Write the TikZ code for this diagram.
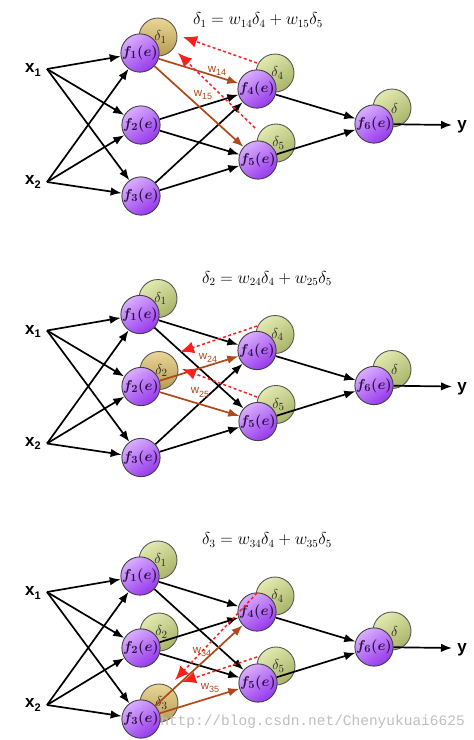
\documentclass[tikz,border=0pt]{standalone}
\usepackage{fontspec}
\newfontfamily\arial{Liberation Sans}
\newfontfamily\cour{Liberation Mono}
\usetikzlibrary{arrows.meta}
\definecolor{fcolA}{HTML}{D9AEFF}
\definecolor{fcolB}{HTML}{9638EC}
\definecolor{gcolA}{HTML}{E2EAB0}
\definecolor{gcolB}{HTML}{A9B468}
\definecolor{tcolA}{HTML}{EAD596}
\definecolor{tcolB}{HTML}{B59C52}
\definecolor{brownc}{HTML}{B0481A}
\definecolor{redc}{HTML}{FF1E1E}
\definecolor{ftext}{HTML}{2A1040}
\tikzset{
  fnode/.style={circle, draw=black!75, line width=0.9pt, minimum size=37pt, inner sep=0pt,
    top color=fcolA, bottom color=fcolB, shading angle=35, text=ftext,
    font=\fontsize{15}{15}\selectfont\boldmath},
  dnode/.style={circle, draw=black!65, line width=0.9pt, minimum size=38pt, inner sep=0pt,
    top color=gcolA, bottom color=gcolB, shading angle=35, text=black!85,
    font=\fontsize{15}{15}\selectfont},
  dtan/.style={top color=tcolA, bottom color=tcolB},
  inlabel/.style={font=\arial\bfseries\fontsize{17}{17}\selectfont, inner sep=0pt},
  eqlabel/.style={font=\fontsize{16}{16}\selectfont, inner sep=0pt},
  wlabel/.style={font=\arial\fontsize{11.5}{11.5}\selectfont, text=brownc, inner sep=0pt},
  blk/.style={-{Latex[length=11pt,width=8.5pt]}, line width=1.7pt, black},
  brn/.style={-{Latex[length=11pt,width=8.5pt]}, line width=1.7pt, brownc},
  rdash/.style={-{Latex[length=14pt,width=12pt]}, line width=1.5pt, redc, dash pattern=on 3pt off 2.5pt},
}
\newcommand\dcommon[1]{%
  \node[dnode] (#1d4) at (275,73) {\hspace*{5pt}$\delta_4$};
  \node[dnode] (#1d5) at (276,143) {\hspace*{5pt}$\delta_5$};
  \node[dnode] (#1d6) at (392,108) {\hspace*{5pt}$\delta$};
}
\newcommand\fcommon[1]{%
  \node[fnode] (#1f1) at (140,53) {$f_1(e)$};
  \node[fnode] (#1f2) at (141,125) {$f_2(e)$};
  \node[fnode] (#1f3) at (141,196) {$f_3(e)$};
  \node[fnode] (#1f4) at (257,89) {$f_4(e)$};
  \node[fnode] (#1f5) at (258,160) {$f_5(e)$};
  \node[fnode] (#1f6) at (374,124) {$f_6(e)$};
  \node[inlabel] (#1lx1) at (33,70) {x\raisebox{-0.35ex}{\fontsize{11}{11}\selectfont 1}};
  \node[inlabel] (#1lx2) at (33,182) {x\raisebox{-0.35ex}{\fontsize{11}{11}\selectfont 2}};
  \node[inlabel] (#1ly) at (462,127) {y};
  \coordinate (#1x1) at (47,69);
  \coordinate (#1x2) at (47,182);
  \coordinate (#1y) at (452,125);
}
\newcommand\iocommon[1]{%
  \foreach \s in {x1,x2} \foreach \t in {f1,f2,f3} \draw[blk] (#1\s) -- (#1\t);
  \draw[blk] (#1f4) -- (#1f6);
  \draw[blk] (#1f5) -- (#1f6);
  \draw[blk] (#1f6) -- (#1y);
}
\begin{document}
\begin{tikzpicture}[x=1pt,y=-1pt]
\useasboundingbox (0,0) rectangle (474,740);
\fill[white] (0,0) rectangle (474,740);
% ---------------- panel 1
\begin{scope}
  \node[dnode, dtan] (ad1) at (158,37) {\hspace*{5pt}$\delta_1$};
  \dcommon{a}
  \fcommon{a}
  \iocommon{a}
  \foreach \s in {f2,f3} \foreach \t in {f4,f5} \draw[blk] (a\s) -- (a\t);
  \draw[brn] (af1) -- (af4);
  \draw[brn] (af1) -- (af5);
  \node[eqlabel] (aeq) at (258,20) {$\delta_1 = w_{14}\delta_4 + w_{15}\delta_5$};
  \node[wlabel] (aw1) at (217,71) {w\raisebox{-0.5ex}{\fontsize{9}{9}\selectfont 14}};
  \node[wlabel] (aw2) at (203,95) {w\raisebox{-0.5ex}{\fontsize{9}{9}\selectfont 15}};
  \coordinate (ar1s) at (257,63); \coordinate (ar1e) at (183,37);
  \coordinate (ar2s) at (255,128); \coordinate (ar2e) at (178,53);
  \draw[rdash] (ar1s) -- (ar1e);
  \draw[rdash] (ar2s) -- (ar2e);
\end{scope}
% ---------------- panel 2
\begin{scope}[shift={(0,261.5)}]
  \node[dnode] (bd1) at (158,37) {\hspace*{5pt}$\delta_1$};
  \node[dnode, dtan] (bd2) at (159,109) {\hspace*{5pt}$\delta_2$};
  \dcommon{b}
  \fcommon{b}
  \iocommon{b}
  \foreach \s in {f1,f3} \foreach \t in {f4,f5} \draw[blk] (b\s) -- (b\t);
  \draw[brn] (bf2) -- (bf4);
  \draw[brn] (bf2) -- (bf5);
  \node[eqlabel] (beq) at (267,17) {$\delta_2 = w_{24}\delta_4 + w_{25}\delta_5$};
  \node[wlabel] (bw1) at (208,96) {w\raisebox{-0.5ex}{\fontsize{9}{9}\selectfont 24}};
  \node[wlabel] (bw2) at (200,131) {w\raisebox{-0.5ex}{\fontsize{9}{9}\selectfont 25}};
  \coordinate (br1s) at (257,64.5); \coordinate (br1e) at (180,90.5);
  \coordinate (br2s) at (257,135.5); \coordinate (br2e) at (182,107.5);
  \draw[rdash] (br1s) -- (br1e);
  \draw[rdash] (br2s) -- (br2e);
\end{scope}
% ---------------- panel 3
\begin{scope}[shift={(0,523)}]
  \node[dnode] (cd1) at (158,37) {\hspace*{5pt}$\delta_1$};
  \node[dnode] (cd2) at (159,109) {\hspace*{5pt}$\delta_2$};
  \node[dnode, dtan] (cd3) at (159,180) {\hspace*{5pt}$\delta_3$};
  \dcommon{c}
  \fcommon{c}
  \iocommon{c}
  \foreach \s in {f1,f2} \foreach \t in {f4,f5} \draw[blk] (c\s) -- (c\t);
  \draw[brn] (cf3) -- (cf4);
  \draw[brn] (cf3) -- (cf5);
  \node[eqlabel] (ceq) at (267,17) {$\delta_3 = w_{34}\delta_4 + w_{35}\delta_5$};
  \node[wlabel] (cw1) at (202,129) {w\raisebox{-0.5ex}{\fontsize{9}{9}\selectfont 34}};
  \node[wlabel] (cw2) at (210,165) {w\raisebox{-0.5ex}{\fontsize{9}{9}\selectfont 35}};
  \coordinate (cr1s) at (257,70); \coordinate (cr1e) at (175,157);
  \coordinate (cr2s) at (257,134); \coordinate (cr2e) at (182,159);
  \draw[rdash] (cr1s) -- (cr1e);
  \draw[rdash] (cr2s) -- (cr2e);
\end{scope}
\node[font=\cour\fontsize{14.5}{14.5}\selectfont, text=black!25, inner sep=0pt, anchor=east] (wm) at (465,722) {http://blog.csdn.net/Chenyukuai6625};
\end{tikzpicture}
\end{document}
